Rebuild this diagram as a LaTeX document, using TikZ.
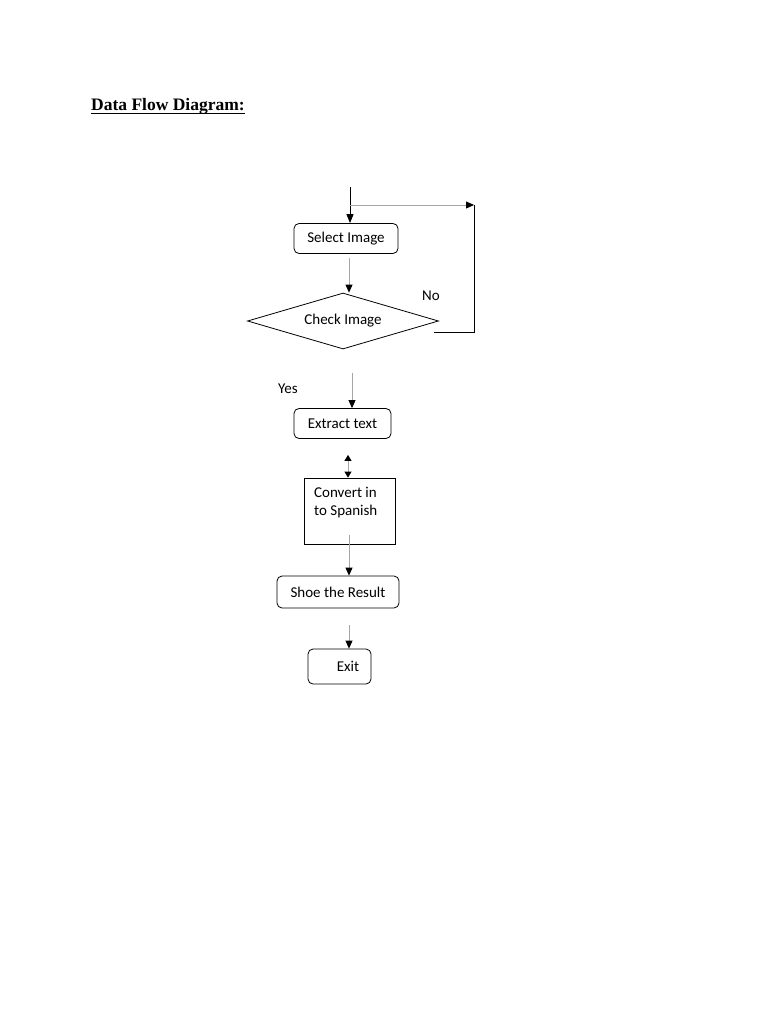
\documentclass[tikz,border=0pt]{standalone}
\usepackage{fontspec}
\setmainfont{Carlito}
\newfontfamily\titlefont{Liberation Serif}
\usetikzlibrary{shapes.geometric,arrows.meta}
\tikzset{
  rbox/.style={draw, rounded corners=5pt, thick, inner sep=0pt, font=\fontsize{15}{18}\selectfont},
  sbox/.style={draw, thick, inner sep=0pt},
  dbox/.style={draw, thick, diamond, aspect=3.4, inner sep=0pt, font=\fontsize{15}{18}\selectfont},
  lbl/.style={font=\fontsize{15}{18}\selectfont, inner sep=0pt},
  garrow/.style={draw=black!35, line width=0.8pt, -{Triangle[width=7pt,length=8pt,color=black]}},
  gdouble/.style={draw=black!35, line width=0.8pt, {Triangle[width=7pt,length=6pt,color=black]}-{Triangle[width=7pt,length=6pt,color=black]}},
  bline/.style={draw=black, line width=1pt},
}
\begin{document}
\begin{tikzpicture}[x=1pt,y=-1pt]
\useasboundingbox (0,0) rectangle (768,1024);
% title
\node[anchor=base west, inner sep=0pt, font=\titlefont\bfseries\fontsize{17.5}{21}\selectfont] (title) at (91,111) {Data Flow Diagram:};
\draw[line width=1.3pt] ([yshift=-2.5pt]title.base west) -- ([yshift=-2.5pt]title.base east);
% nodes
\node[rbox, minimum width=104pt, minimum height=30pt] (select) at (346,238.5) {Select Image};
\node[dbox, minimum width=191pt, minimum height=56pt] (check) at (343,321) {Check Image};
\node[rbox, minimum width=97pt, minimum height=30pt] (extract) at (342.5,423.5) {Extract text};
\node[sbox, minimum width=91pt, minimum height=66pt] (convert) at (349.5,511) {};
\node[lbl, align=left, anchor=north west] (converttext) at (314,486.5) {Convert in\\to Spanish};
\node[rbox, minimum width=122pt, minimum height=32pt] (shoe) at (338,592) {Shoe the Result};
\node[rbox, minimum width=63pt, minimum height=35pt] (exit) at (339.5,666.5) {\hspace*{17pt}Exit};
% labels
\node[lbl] (no) at (431,296) {No};
\node[lbl] (yes) at (288,389) {Yes};
% loop coordinates
\coordinate (in) at (350,187);
\coordinate (b1) at (350,205);
\coordinate (b2) at (474,205);
\coordinate (b3) at (474,332.5);
\coordinate (b4) at (434,332.5);
% connectors
\draw[bline, -{Triangle[width=7pt,length=9pt]}] (in) -- (in |- select.north);
\draw[garrow] (b1) -- (b2);
\draw[bline] (b2) -- (b3) -- (b4);
\draw[garrow] ([xshift=3pt,yshift=-4pt]select.south) -- ([xshift=6pt]check.north);
\draw[garrow] ([xshift=9pt,yshift=-24pt]check.south) -- ([xshift=9.5pt]extract.north);
\draw[gdouble] ([xshift=5.5pt,yshift=-16pt]extract.south) -- ([xshift=-1.5pt]convert.north);
\draw[garrow] ([xshift=-0.5pt,yshift=9pt]convert.south) -- ([xshift=11pt]shoe.north);
\draw[garrow] ([xshift=11pt,yshift=-17pt]shoe.south) -- ([xshift=9.5pt]exit.north);
\end{tikzpicture}
\end{document}
